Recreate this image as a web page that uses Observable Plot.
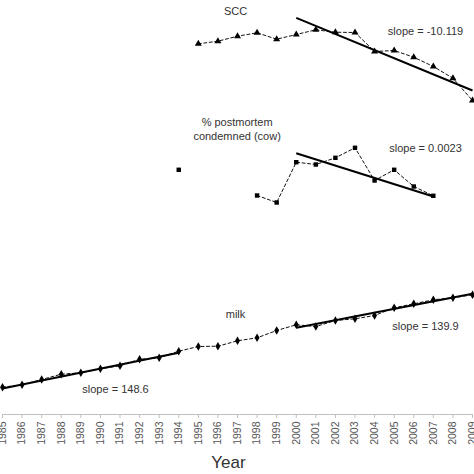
<!DOCTYPE html>
<html>
<head>
<meta charset="utf-8">
<script src="https://cdn.jsdelivr.net/npm/d3@7"></script>
<script src="https://cdn.jsdelivr.net/npm/@observablehq/plot@0.6"></script>
<style>
  html, body { margin: 0; padding: 0; background: #fff; }
  #chart svg { display: block; }
</style>
</head>
<body>
<div id="chart"></div>
<script>
// Years on the axis
const years = d3.range(1985, 2010);

// SCC series (triangles), 1995–2009, in relative chart units
const sccYears = [1995,1996,1997,1998,1999,2000,2001,2002,2003,2004,2005,2006,2007,2008,2009];
const sccValues = [370.7,373.3,378.3,381.7,375.3,380,384.7,382.3,382,363,364,357.3,348,336.3,314];

// % postmortem condemned (cow) series (squares)
const pmYears = [1994,1998,1999,2000,2001,2002,2003,2004,2005,2006,2007];
const pmValues = [244.7,219,212,252.3,250,256.7,266.7,234,244.7,228,218.7];

// milk series (diamonds), 1985–2009
const milkYears = years;
const milkValues = [27.3,29.7,35,40.3,41.7,45.7,48.7,55.3,56.7,63.3,68,68.3,73.7,76.7,84,89.7,88,94,95.7,99,106.7,110.7,114.7,116.7,119.7];

// Regression (trend) segments: [startYear, startValue, endYear, endValue]
const trends = [
  [2000, 396.7, 2009, 324],   // SCC, slope = -10.119
  [2000, 261.3, 2007, 218],   // postmortem, slope = 0.0023
  [1985, 26, 1994, 61.7],     // milk, slope = 148.6
  [2000, 86.7, 2009, 120.7]   // milk, slope = 139.9
];

// Annotation labels
const labelTexts = ["SCC", "% postmortem\ncondemned (cow)", "milk",
                    "slope = -10.119", "slope = 0.0023", "slope = 139.9", "slope = 148.6"];
const labelX = [1996.9, 1996.98, 1996.9, 2006.6, 2006.6, 2006.6, 1990.77];
const labelY = [404, 285.7, 101.3, 384, 267.3, 89, 25.7];

const scc = sccYears.map((x, i) => ({x, y: sccValues[i]}));
// postmortem: 1994 is isolated (gap 1995–1997)
const pm = pmYears.map((x, i) => ({x, y: pmValues[i]}));
const pmLine = pm.filter(d => d.x >= 1998);
const milk = milkYears.map((x, i) => ({x, y: milkValues[i]}));
const trendData = trends.map(([x1, y1, x2, y2]) => ({x1, y1, x2, y2}));
const labels = labelTexts.map((text, i) => ({text, x: labelX[i], y: labelY[i]}));

const font = "Liberation Sans, Arial, sans-serif";

const chart = Plot.plot({
  width: 474,
  height: 474,
  marginLeft: 2,
  marginRight: 2,
  marginTop: 0,
  marginBottom: 60,
  style: {fontFamily: font, background: "#fff", overflow: "hidden"},
  x: {domain: [1985, 2009], axis: null},
  y: {domain: [0, 414], axis: null},
  marks: [
    Plot.ruleY([0], {stroke: "#bfbfbf", strokeWidth: 1}),
    Plot.axisX({
      ticks: years, tickFormat: d => String(d), tickRotate: -90,
      tickSize: 4, tickPadding: 3, fontSize: 10.5, stroke: "#bfbfbf",
      color: "#555", label: null
    }),
    Plot.text(["Year"], {frameAnchor: "bottom", dx: -9, dy: 48, fontSize: 17, fill: "#333", lineAnchor: "middle"}),
    // dashed connecting lines
    Plot.line(scc, {x: "x", y: "y", stroke: "#111", strokeWidth: 1, strokeDasharray: "3,2.5"}),
    Plot.line(pmLine, {x: "x", y: "y", stroke: "#111", strokeWidth: 1, strokeDasharray: "3,2.5"}),
    Plot.line(milk, {x: "x", y: "y", stroke: "#111", strokeWidth: 1, strokeDasharray: "3,2.5"}),
    // trend lines
    Plot.link(trendData, {x1: "x1", y1: "y1", x2: "x2", y2: "y2", stroke: "#000", strokeWidth: 2}),
    // markers
    Plot.dot(scc, {x: "x", y: "y", symbol: "triangle", r: 2.6, fill: "#000"}),
    Plot.dot(pm, {x: "x", y: "y", symbol: "square", r: 2.5, fill: "#000"}),
    Plot.dot(milk, {x: "x", y: "y", symbol: "diamond", r: 2.6, fill: "#000"}),
    // annotations
    Plot.text(labels, {x: "x", y: "y", text: "text", fontSize: 11, fill: "#333", lineHeight: 1.25})
  ]
});
document.getElementById("chart").appendChild(chart);
</script>
</body>
</html>
